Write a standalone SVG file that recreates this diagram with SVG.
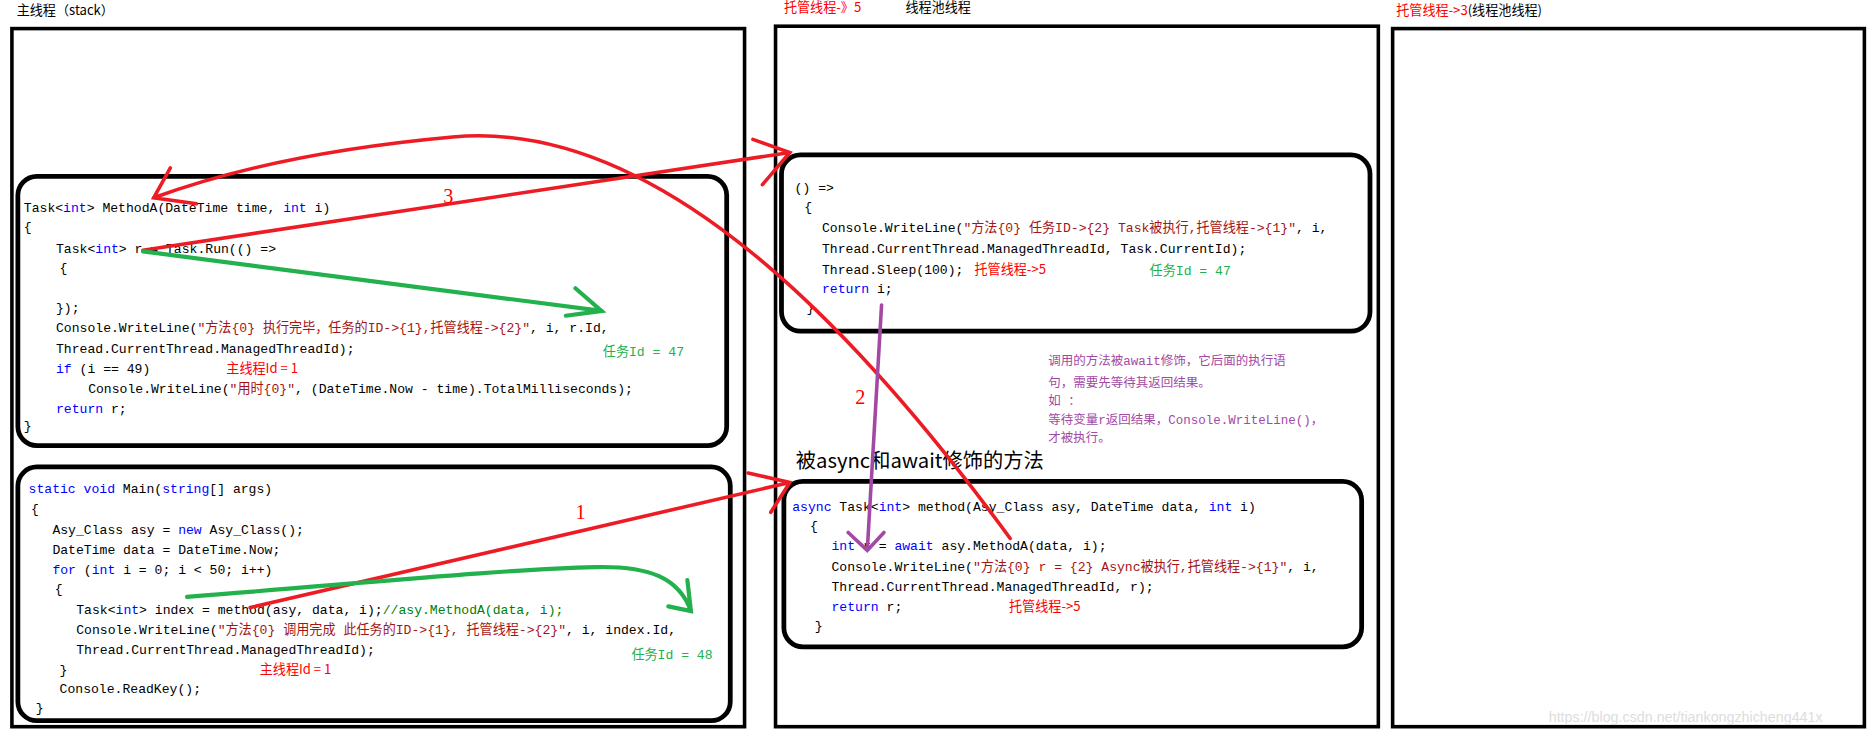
<svg xmlns="http://www.w3.org/2000/svg" width="1868" height="734" viewBox="0 0 1868 734">
<style>
.c{font-family:"Liberation Mono","Noto Sans CJK SC",monospace;font-size:11px;fill:#000}
.k{fill:#0000ff}.s{fill:#a31515}.g{fill:#008000}
.r{font-family:"Noto Sans CJK SC",sans-serif;font-size:11px;fill:#ff0000}
.gr{font-family:"Liberation Mono","Noto Sans CJK SC",monospace;font-size:11px;fill:#22b14c}
.t{font-family:"Noto Sans CJK SC",sans-serif;font-size:11px;fill:#000}
.p{font-family:"Liberation Mono","Noto Sans CJK SC",monospace;font-size:10.5px;fill:#a349a4}
.panel{fill:#fff;stroke:#000;stroke-width:3}
.box{fill:none;stroke:#000;stroke-width:4}
.ra{fill:none;stroke:#ed1c24;stroke-width:3;stroke-linecap:round}
.ga{fill:none;stroke:#22b14c;stroke-width:3.5;stroke-linecap:round}
.pa{fill:none;stroke:#a349a4;stroke-width:3;stroke-linecap:round}
</style>
<rect width="1868" height="734" fill="#fff"/>
<g transform="scale(1.1913)">
<g id="titles">
<text class="t" x="14" y="13">主线程（stack）</text>
<text class="r" x="658" y="10">托管线程-》5</text>
<text class="t" x="760" y="10">线程池线程</text>
<text class="r" x="1172" y="13">托管线程-&gt;3</text>
<text class="t" x="1232" y="13">(线程池线程)</text>
</g>
<g id="panel-main"><rect class="panel" x="10" y="24" width="615" height="586"/></g>
<g id="panel-pool5"><rect class="panel" x="651" y="22" width="506" height="588"/></g>
<g id="panel-pool3"><rect class="panel" x="1169" y="24" width="396" height="586"/></g>
<g id="node-methodA">
<rect class="box" x="15" y="148" width="595" height="226" rx="16"/>
<text class="c" x="20" y="178">Task&lt;<tspan class="k">int</tspan>&gt; MethodA(DateTime time, <tspan class="k">int</tspan> i)</text>
<text class="c" x="20" y="194">{</text>
<text class="c" x="47" y="212">Task&lt;<tspan class="k">int</tspan>&gt; r = Task.Run(() =&gt;</text>
<text class="c" x="50" y="228">{</text>
<text class="c" x="47" y="262">});</text>
<text class="c" x="47" y="279">Console.WriteLine(<tspan class="s">"方法{0} 执行完毕，任务的ID-&gt;{1},托管线程-&gt;{2}"</tspan>, i, r.Id,</text>
<text class="c" x="47" y="296">Thread.CurrentThread.ManagedThreadId);</text>
<text class="c" x="47" y="313"><tspan class="k">if</tspan> (i == 49)</text>
<text class="c" x="74" y="330">Console.WriteLine(<tspan class="s">"用时{0}"</tspan>, (DateTime.Now - time).TotalMilliseconds);</text>
<text class="c" x="47" y="347"><tspan class="k">return</tspan> r;</text>
<text class="c" x="20" y="361">}</text>
<text class="r" x="190" y="313">主线程Id = 1</text>
<text class="gr" x="506" y="299">任务Id = 47</text>
</g>
<g id="node-main">
<rect class="box" x="15" y="392" width="598" height="213" rx="16"/>
<text class="c" x="24" y="414"><tspan class="k">static void</tspan> Main(<tspan class="k">string</tspan>[] args)</text>
<text class="c" x="26" y="431">{</text>
<text class="c" x="44" y="448">Asy_Class asy = <tspan class="k">new</tspan> Asy_Class();</text>
<text class="c" x="44" y="465">DateTime data = DateTime.Now;</text>
<text class="c" x="44" y="482"><tspan class="k">for</tspan> (<tspan class="k">int</tspan> i = 0; i &lt; 50; i++)</text>
<text class="c" x="46" y="498">{</text>
<text class="c" x="64" y="515">Task&lt;<tspan class="k">int</tspan>&gt; index = method(asy, data, i);<tspan class="g">//asy.MethodA(data, i);</tspan></text>
<text class="c" x="64" y="532">Console.WriteLine(<tspan class="s">"方法{0} 调用完成 此任务的ID-&gt;{1}, 托管线程-&gt;{2}"</tspan>, i, index.Id,</text>
<text class="c" x="64" y="549">Thread.CurrentThread.ManagedThreadId);</text>
<text class="c" x="50" y="566">}</text>
<text class="c" x="50" y="582">Console.ReadKey();</text>
<text class="c" x="30" y="598">}</text>
<text class="r" x="218" y="566">主线程Id = 1</text>
<text class="gr" x="530" y="553">任务Id = 48</text>
</g>
<g id="node-lambda">
<rect class="box" x="656" y="130" width="494" height="148" rx="16"/>
<text class="c" x="667" y="161">() =&gt;</text>
<text class="c" x="675" y="177">{</text>
<text class="c" x="690" y="195">Console.WriteLine(<tspan class="s">"方法{0} 任务ID-&gt;{2} Task被执行,托管线程-&gt;{1}"</tspan>, i,</text>
<text class="c" x="690" y="212">Thread.CurrentThread.ManagedThreadId, Task.CurrentId);</text>
<text class="c" x="690" y="230">Thread.Sleep(100);</text>
<text class="r" x="818" y="230">托管线程-&gt;5</text>
<text class="gr" x="965" y="231">任务Id = 47</text>
<text class="c" x="690" y="246"><tspan class="k">return</tspan> i;</text>
<text class="c" x="677" y="262">}</text>
</g>
<g id="note">
<text class="p" x="880" y="306">调用的方法被await修饰，它后面的执行语</text>
<text class="p" x="880" y="325">句，需要先等待其返回结果。</text>
<text class="p" x="880" y="340">如 ：</text>
<text class="p" x="880" y="356">等待变量r返回结果，Console.WriteLine()，</text>
<text class="p" x="880" y="371">才被执行。</text>
<text x="668" y="393" style="font-family:'Noto Sans CJK SC',sans-serif;font-size:17px;fill:#000">被async和await修饰的方法</text>
</g>
<g id="node-async">
<rect class="box" x="658" y="404" width="485" height="139" rx="16"/>
<text class="c" x="665" y="429"><tspan class="k">async</tspan> Task&lt;<tspan class="k">int</tspan>&gt; method(Asy_Class asy, DateTime data, <tspan class="k">int</tspan> i)</text>
<text class="c" x="680" y="445">{</text>
<text class="c" x="698" y="462"><tspan class="k">int</tspan> r = <tspan class="k">await</tspan> asy.MethodA(data, i);</text>
<text class="c" x="698" y="479">Console.WriteLine(<tspan class="s">"方法{0} r = {2} Async被执行,托管线程-&gt;{1}"</tspan>, i,</text>
<text class="c" x="698" y="496">Thread.CurrentThread.ManagedThreadId, r);</text>
<text class="c" x="698" y="513"><tspan class="k">return</tspan> r;</text>
<text class="r" x="847" y="513">托管线程-&gt;5</text>
<text class="c" x="684" y="529">}</text>
</g>
<g id="connectors">
<path class="ra" d="M120,210 L663,128 M632,117 L663,128 L640,155"/>
<path class="ra" d="M848,452 C700,250 540,100 380,115 C280,124 200,140 129,166 M143,141 L129,166 L165,171"/>
<path class="ra" d="M210,510 L663,405 M628,397 L663,405 L647,430"/>
<path class="ga" d="M120,211 L505,261 M483,242 L505,261 L475,265"/>
<path class="ga" d="M157,501 C300,490 420,478 500,476 C545,475 570,485 580,513 M561,509 L580,513 L577,487"/>
<path class="pa" d="M740,256 L728,462 M712,447 L728,462 L742,447"/>
<text x="372" y="170" style="font-family:'Liberation Serif',serif;font-size:17px;fill:#ff0000">3</text>
<text x="483" y="436" style="font-family:'Liberation Serif',serif;font-size:17px;fill:#ff0000">1</text>
<text x="718" y="339" style="font-family:'Liberation Serif',serif;font-size:17px;fill:#ff0000">2</text>
</g>
<text x="1300" y="606" style="font-family:'Liberation Sans',sans-serif;font-size:12px;fill:#ddd">https://blog.csdn.net/tiankongzhicheng441x</text>
</g>
</svg>
